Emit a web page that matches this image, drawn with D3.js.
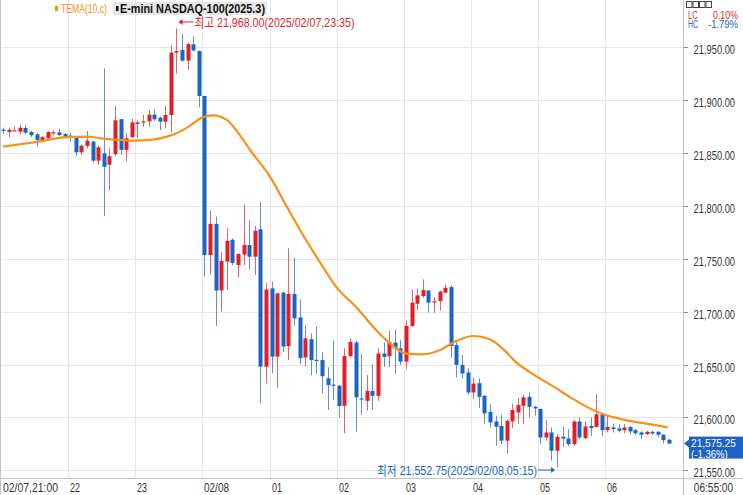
<!DOCTYPE html>
<html>
<head>
<meta charset="utf-8">
<script src="https://cdn.jsdelivr.net/npm/d3@7"></script>
<style>
  html, body { margin: 0; padding: 0; background: #fff; }
  svg { display: block; }
  text { font-family: "Liberation Sans", "Noto Sans CJK KR", sans-serif; }
</style>
</head>
<body>
<svg></svg>
<script>
// 5 minute candles, 02/07 21:00 -> 02/08 06:55
let open = [21872, 21870, 21871, 21870.2, 21873.7, 21870, 21867.7, 21862.4, 21864, 21869,
    21869.6, 21868, 21866.5, 21865, 21850.7, 21856.7, 21860.8, 21842.8, 21849.7, 21839,
    21849, 21882, 21853, 21865, 21877.5, 21879, 21880, 21886.3, 21883.5, 21879.7,
    21886, 21945, 21947.5, 21937.4, 21952.8, 21946.5, 21904, 21753.6, 21783, 21720,
    21747.3, 21768, 21744, 21754, 21763, 21752, 21778, 21648, 21722, 21657.5,
    21718, 21667.5, 21716.7, 21694.6, 21656.8, 21674, 21654.5, 21654.3, 21637, 21631,
    21630, 21611, 21658, 21670.8, 21618, 21615.7, 21625, 21620.4, 21660.4, 21658,
    21670.8, 21665.4, 21652.8, 21686.5, 21707.5, 21714.8, 21720, 21709, 21710, 21718,
    21723.2, 21668.5, 21649.7, 21642.5, 21623.6, 21632.4, 21620.4, 21605.3, 21596.2, 21592,
    21578, 21596.2, 21604.7, 21611, 21619.5, 21610, 21608, 21581, 21585.8, 21568.5,
    21581.7, 21580, 21574.8, 21596.2, 21580.4, 21592, 21591, 21603, 21588, 21590.5,
    21589.6, 21588, 21591, 21588, 21585.8, 21584.2, 21586.4, 21586.4, 21583.6, 21578.9];
let high = [21874, 21874, 21875, 21877, 21876.5, 21871, 21869, 21866, 21870.5, 21872,
    21873, 21869, 21869, 21865.5, 21858, 21871, 21861.7, 21856.7, 21930, 21854.5,
    21894.5, 21882, 21868.7, 21882.5, 21881, 21886, 21890.7, 21891.7, 21884.4, 21894.5,
    21952, 21968, 21963, 21954.4, 21960, 21947, 21904, 21795.5, 21790, 21756.7,
    21779, 21769.4, 21755.2, 21801.5, 21786, 21781, 21804, 21727, 21728.4, 21718,
    21719, 21760, 21751, 21711.7, 21687.4, 21679.5, 21685.8, 21662, 21647.4, 21672.6,
    21630.6, 21665.4, 21674.5, 21672.3, 21660, 21640, 21650.3, 21665.4, 21670.8, 21681.8,
    21683.3, 21673.3, 21691.8, 21721, 21721.7, 21730.5, 21720, 21713.8, 21720, 21725.8,
    21725, 21673, 21659, 21646.5, 21637.7, 21637, 21621.4, 21612.6, 21601.6, 21602.5,
    21598.4, 21613, 21618.3, 21621.5, 21623.7, 21611, 21608.5, 21597.5, 21590.5, 21584.2,
    21591, 21589, 21597.5, 21600, 21596.2, 21600, 21622, 21604.7, 21601.6, 21594.3,
    21593.7, 21593.7, 21592, 21589, 21586.8, 21587.4, 21587.4, 21587.4, 21584.2, 21579.5];
let low = [21868, 21865, 21871, 21868, 21868, 21865, 21856, 21860.5, 21863, 21867,
    21866, 21863.6, 21860.5, 21847, 21848, 21854.6, 21841, 21838.7, 21790.5, 21815,
    21846.7, 21848.5, 21842, 21864, 21864, 21875, 21875, 21880, 21871.8, 21873.4,
    21869.3, 21925, 21936.4, 21929, 21946, 21893.3, 21733, 21735, 21686.5, 21700,
    21720.5, 21744, 21732.5, 21744, 21740, 21734.7, 21613.3, 21632.2, 21641.7, 21627.5,
    21662, 21654.3, 21686.5, 21650.5, 21648, 21640, 21641, 21622.8, 21607, 21616.5,
    21600, 21585, 21656.6, 21586.5, 21602.5, 21606.3, 21607, 21615.7, 21647.8, 21647.8,
    21641.5, 21649.7, 21645.6, 21685.5, 21701.3, 21713.2, 21699, 21699, 21701, 21717,
    21656.6, 21637.7, 21637, 21621.4, 21617.3, 21608.8, 21594.3, 21590.5, 21573.3, 21575,
    21566, 21590, 21593.7, 21593.7, 21600, 21601.6, 21574.8, 21578, 21559, 21552.75,
    21572, 21573, 21573, 21579.5, 21579.5, 21582.6, 21590.5, 21582.6, 21585.8, 21585.8,
    21585.8, 21585, 21584.2, 21583.6, 21579.5, 21583.3, 21583.3, 21581, 21575.4, 21575];
let close = [21871, 21872, 21871.5, 21874, 21869.3, 21866.8, 21862.4, 21865, 21870, 21869.6,
    21867, 21865, 21866, 21850.7, 21857, 21861.7, 21842.8, 21855.4, 21837, 21847,
    21881, 21853, 21864, 21879, 21879, 21880, 21886.3, 21882, 21879.7, 21886,
    21945, 21946.5, 21937.4, 21953, 21947, 21904, 21753.6, 21783, 21720, 21748,
    21767, 21746, 21754.5, 21763, 21752, 21776.6, 21648, 21721, 21657.5, 21717.3,
    21667, 21716.7, 21693.7, 21656, 21674.8, 21654.3, 21654, 21639, 21630.6, 21630,
    21610.8, 21658, 21671.4, 21619, 21617.3, 21625, 21620.4, 21660.4, 21657.2, 21671.4,
    21665.4, 21652.8, 21686.5, 21708.5, 21715.4, 21720.4, 21708.5, 21709.8, 21719, 21722.6,
    21667.6, 21649.7, 21641.5, 21623.6, 21632, 21619.5, 21603.8, 21595.3, 21591.2, 21578,
    21596.8, 21607, 21611.7, 21619, 21610, 21608.5, 21581, 21585.8, 21568.5, 21581.7,
    21580, 21574.8, 21596.2, 21581, 21591.5, 21590, 21603, 21588, 21591, 21589,
    21587.4, 21590.5, 21586.8, 21585, 21583.6, 21586.4, 21584.9, 21583.6, 21578.5, 21575.25];

// TEMA(10,c) (candle index -> value)
let temaIdx = [0, 5.4, 11.4, 15, 17.9, 20.4, 23.2, 26.3, 29.3, 30.7,
    32.9, 35.7, 37.5, 40, 42.3, 44.6, 47.7, 50.7, 53.6, 56.6,
    59.6, 63.2, 66, 69, 72, 75, 78, 81, 84, 87,
    90, 91.4, 93.8, 98.6, 101.6, 104.5, 107.5, 110.5, 113.4, 116.4, 118.8];
let temaVal = [21856, 21860, 21865, 21865.5, 21863.6, 21862.4, 21861.7, 21862.4, 21865.5, 21868,
    21874, 21883.8, 21885.7, 21881.3, 21867, 21849.7, 21827.7, 21799.3, 21772.5, 21747,
    21723, 21703.8, 21686.5, 21670.8, 21660.4, 21659.7, 21663.5, 21672.3, 21677, 21674,
    21661.3, 21653.5, 21644, 21628.4, 21618.3, 21609.5, 21602.5, 21598.4, 21595.3, 21593, 21590.5];

let timeIdx = [0, 12, 24, 36, 48, 60, 72, 84, 96, 108];
let timeLabels = ['02/07,21:00', '22', '23', '02/08', '01', '02', '03', '04', '05', '06'];
let priceTicks = [21550, 21600, 21650, 21700, 21750, 21800, 21850, 21900, 21950];

let width = 743;
let height = 495;
let plotRight = 683;
let plotBottom = 478;

let red = '#e01f26';
let blue = '#1d63c6';
let orange = '#f5911c';

let svg = d3.select('svg')
    .attr('width', width)
    .attr('height', height);

let x = d3.scaleLinear().domain([0, 119]).range([3, 669]);
let y = d3.scaleLinear().domain([21550, 21950]).range([470.3, 47.3]);

// the original uses a narrow half-width font, so squeeze text to its width
function narrow(s, w) {
    return Array.from(s).reduce((a, ch) => a + (ch.charCodeAt(0) < 128 ? w : 2 * w), 0);
}
function label(sel, s, w) {
    return sel.text(s)
        .attr('textLength', narrow(s, w))
        .attr('lengthAdjust', 'spacingAndGlyphs');
}

let candles = d3.range(open.length).map(i => ({
    i: i, o: open[i], h: high[i], l: low[i], c: close[i]
}));

// grid
let grid = svg.append('g');
grid.selectAll('line.h')
    .data(priceTicks)
    .enter()
    .append('line')
    .attr('x1', 1).attr('x2', plotRight)
    .attr('y1', d => Math.round(y(d)) + 0.5)
    .attr('y2', d => Math.round(y(d)) + 0.5)
    .attr('stroke', '#e6e6e9');
grid.selectAll('line.v')
    .data(timeIdx.slice(1))
    .enter()
    .append('line')
    .attr('x1', d => Math.round(x(d) - 2) + 0.5)
    .attr('x2', d => Math.round(x(d) - 2) + 0.5)
    .attr('y1', 0).attr('y2', plotBottom)
    .attr('stroke', '#e6e6e9');

// frame
svg.append('line').attr('x1', 0.5).attr('x2', 0.5).attr('y1', 0).attr('y2', height).attr('stroke', '#c4c4c4');
svg.append('line').attr('x1', 0).attr('x2', width).attr('y1', plotBottom + 0.5).attr('y2', plotBottom + 0.5).attr('stroke', '#c4c4c4');
svg.append('line').attr('x1', plotRight + 0.5).attr('x2', plotRight + 0.5).attr('y1', 0).attr('y2', height).attr('stroke', '#c4c4c4');

// candles
let candleGroup = svg.selectAll('g.candle')
    .data(candles)
    .enter()
    .append('g')
    .classed('candle', true);

candleGroup.append('line')
    .attr('x1', d => Math.round(x(d.i)) + 0.5)
    .attr('x2', d => Math.round(x(d.i)) + 0.5)
    .attr('y1', d => y(d.h))
    .attr('y2', d => y(d.l))
    .attr('stroke', d => d.c >= d.o ? red : blue)
    .attr('stroke-opacity', 0.7);

candleGroup.append('rect')
    .attr('x', d => Math.round(x(d.i)) - 1.5)
    .attr('width', 4)
    .attr('y', d => y(Math.max(d.o, d.c)))
    .attr('height', d => Math.max(1.2, Math.abs(y(d.o) - y(d.c))))
    .attr('fill', d => d.c >= d.o ? red : blue);

// tema line
let temaLine = d3.line()
    .x((d, k) => x(temaIdx[k]))
    .y(d => y(d))
    .curve(d3.curveMonotoneX);

svg.append('path')
    .datum(temaVal)
    .attr('d', temaLine)
    .attr('fill', 'none')
    .attr('stroke', orange)
    .attr('stroke-width', 2.2);

// right price axis
let axisG = svg.append('g');
axisG.selectAll('line')
    .data(priceTicks)
    .enter()
    .append('line')
    .attr('x1', plotRight + 1).attr('x2', plotRight + 5)
    .attr('y1', d => Math.round(y(d)) + 0.5)
    .attr('y2', d => Math.round(y(d)) + 0.5)
    .attr('stroke', '#888');
axisG.selectAll('text')
    .data(priceTicks)
    .enter()
    .append('text')
    .attr('x', 735)
    .attr('y', d => y(d) + 7)
    .attr('text-anchor', 'end')
    .attr('font-size', 13)
    .attr('fill', '#333')
    .each(function (d) { label(d3.select(this), d3.format(',.2f')(d), 4.6); });

// time axis labels
svg.selectAll('text.time')
    .data(timeIdx)
    .enter()
    .append('text')
    .classed('time', true)
    .attr('x', d => Math.round(x(d) - 2) + 2)
    .attr('y', 492)
    .attr('font-size', 12)
    .attr('fill', '#333')
    .each(function (d, k) { label(d3.select(this), timeLabels[k], 5); });

label(svg.append('text')
    .attr('x', 733).attr('y', 492)
    .attr('text-anchor', 'end')
    .attr('font-size', 12)
    .attr('fill', '#333'), '06:55:00', 4.9);

// last price marker
let last = close[close.length - 1];
let lastY = y(last);
svg.append('path')
    .attr('d', `M${plotRight + 1},${lastY} L${plotRight + 6},${lastY - 4} L${plotRight + 6},${lastY + 4} Z`)
    .attr('fill', blue);
svg.append('rect')
    .attr('x', 689).attr('y', lastY - 7)
    .attr('width', 54).attr('height', 22)
    .attr('fill', blue);
label(svg.append('text')
    .attr('x', 691).attr('y', lastY + 3.5)
    .attr('font-size', 11).attr('fill', '#fff'), d3.format(',.2f')(last), 5);
label(svg.append('text')
    .attr('x', 691).attr('y', lastY + 14)
    .attr('font-size', 11).attr('fill', '#fff'), '(-1.36%)', 4.6);

// high / low notes
let hiX = x(31) + 2;
let hiY = 22;
svg.append('line')
    .attr('x1', hiX + 2).attr('x2', hiX + 15)
    .attr('y1', hiY).attr('y2', hiY)
    .attr('stroke', red);
svg.append('path')
    .attr('d', `M${hiX},${hiY} L${hiX + 4},${hiY - 3} L${hiX + 4},${hiY + 3} Z`)
    .attr('fill', red);
label(svg.append('text')
    .attr('x', hiX + 16).attr('y', hiY + 4.5)
    .attr('font-size', 13).attr('fill', red), '최고 21,968.00(2025/02/07,23:35)', 5);

let loX = x(99) - 2;
let loY = 470;
svg.append('line')
    .attr('x1', loX - 17).attr('x2', loX - 2)
    .attr('y1', loY).attr('y2', loY)
    .attr('stroke', blue);
svg.append('path')
    .attr('d', `M${loX},${loY} L${loX - 4},${loY - 3} L${loX - 4},${loY + 3} Z`)
    .attr('fill', blue);
let loText = '최저 21,552.75(2025/02/08,05:15)';
label(svg.append('text')
    .attr('x', loX - 18).attr('y', loY + 4.5)
    .attr('text-anchor', 'end')
    .attr('font-size', 13).attr('fill', blue), loText, 5);

// legend
svg.append('rect').attr('x', 55).attr('y', 6).attr('width', 3).attr('height', 5).attr('fill', orange);
label(svg.append('text')
    .attr('x', 61).attr('y', 13)
    .attr('font-size', 12).attr('fill', orange), 'TEMA(10,c)', 4.6);
svg.append('rect').attr('x', 113).attr('y', 2).attr('width', 154).attr('height', 13).attr('fill', '#e6e6e6');
svg.append('rect').attr('x', 116).attr('y', 6).attr('width', 2.5).attr('height', 5).attr('fill', '#111');
label(svg.append('text')
    .attr('x', 120).attr('y', 13)
    .attr('font-size', 12).attr('font-weight', 'bold').attr('fill', '#111'), 'E-mini NASDAQ-100(2025.3)', 5.8);

// top right box
let icons = svg.append('g');
d3.range(4).forEach(k => {
    icons.append('rect')
        .attr('x', 686.5 + k * 6.5).attr('y', 1.5)
        .attr('width', 5.5).attr('height', 6)
        .attr('fill', '#fff').attr('stroke', '#444');
});
label(svg.append('text').attr('x', 688).attr('y', 18.5).attr('font-size', 10).attr('fill', red), 'LC', 5);
label(svg.append('text').attr('x', 738).attr('y', 18.5).attr('text-anchor', 'end').attr('font-size', 10).attr('fill', red), '0.10%', 5);
label(svg.append('text').attr('x', 688).attr('y', 27.5).attr('font-size', 10).attr('fill', blue), 'HC', 5);
label(svg.append('text').attr('x', 738).attr('y', 27.5).attr('text-anchor', 'end').attr('font-size', 10).attr('fill', blue), '-1.79%', 5);
</script>
</body>
</html>
